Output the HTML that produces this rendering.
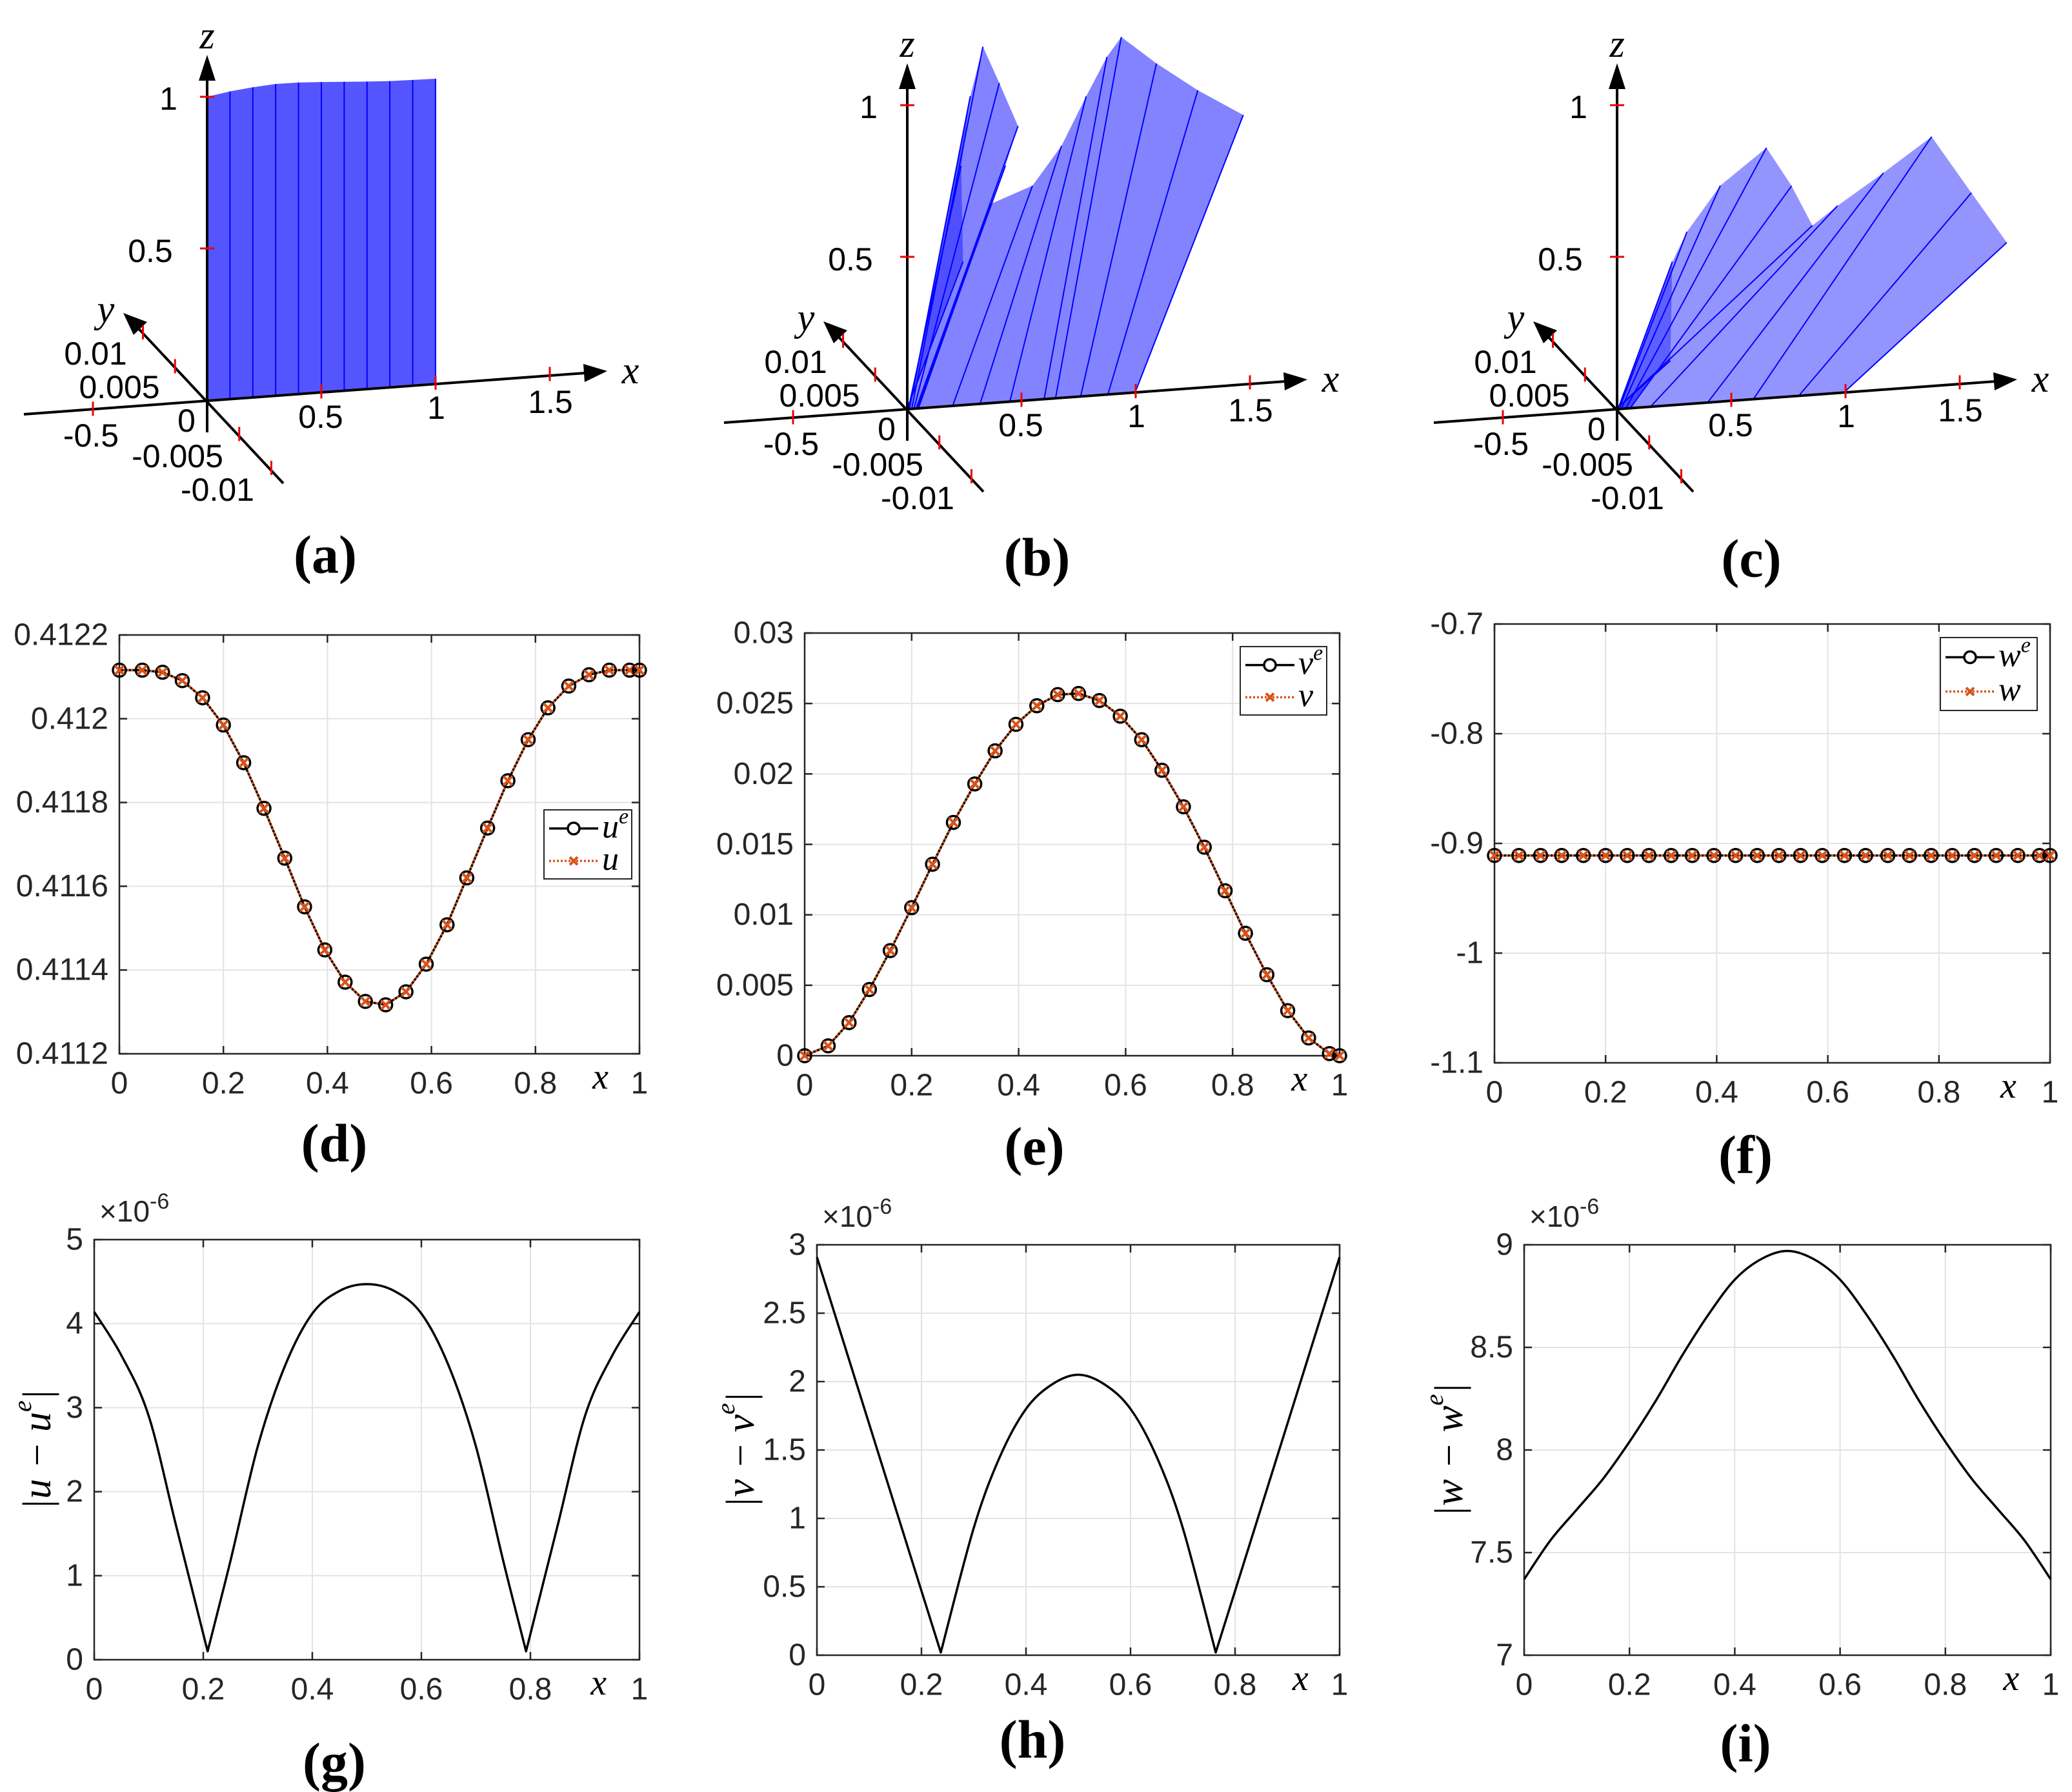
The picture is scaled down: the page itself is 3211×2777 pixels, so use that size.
<!DOCTYPE html>
<html><head><meta charset="utf-8">
<style>
html,body{margin:0;padding:0;background:#fff;}
svg{display:block;}
</style></head>
<body>
<svg id="fig" xmlns="http://www.w3.org/2000/svg" width="3211" height="2777" viewBox="0 0 3211 2777">
<rect x="0" y="0" width="3211" height="2777" fill="#fff"/>
</svg>
<script>
// ===== 3D panel data =====
const aS = [0, 0.1, 0.2, 0.3, 0.4, 0.5, 0.6, 0.7, 0.8, 0.9, 1.0];
const aBase = [0, 0.1, 0.2, 0.3, 0.4, 0.5, 0.6, 0.7, 0.8, 0.9, 1.0];
const aTopX = [0, 0.1, 0.2, 0.3, 0.4, 0.5, 0.6, 0.7, 0.8, 0.9, 1.0];
const aTopZ = [1.0, 1.012, 1.02, 1.025, 1.024, 1.02, 1.015, 1.01, 1.006, 1.004, 1.002];

const bBase = [0, 0.005, 0.01, 0.02, 0.03, 0.04, 0.045, 0.05, 0.2, 0.32, 0.45, 0.6, 0.65, 0.76, 0.88, 1.0];
const bTopX = [0.244, 0.236, 0.276, 0.331, 0.403, 0.485, 0.430, 0.367, 0.548, 0.675, 0.783, 0.874, 0.937, 1.091, 1.272, 1.471];
const bTopZ = [0.470, 0.787, 1.014, 1.174, 1.050, 0.903, 0.776, 0.654, 0.703, 0.827, 0.984, 1.109, 1.171, 1.075, 0.976, 0.883];

const cBase = [0, 0.005, 0.01, 0.02, 0.04, 0.06, 0.0, 0.15, 0.4, 0.6, 0.8, 1.0];
const cTopX = [0.233, 0.242, 0.306, 0.452, 0.654, 0.764, 0.855, 0.965, 1.166, 1.377, 1.551, 1.706];
const cTopZ = [0.144, 0.470, 0.565, 0.709, 0.822, 0.690, 0.554, 0.613, 0.710, 0.817, 0.622, 0.449];

// ===== 2D panel data =====
const nodeX = [0, 0.044, 0.083, 0.121, 0.160, 0.200, 0.239, 0.278, 0.318, 0.356, 0.395, 0.434, 0.473, 0.512, 0.551, 0.590, 0.630, 0.668, 0.708, 0.747, 0.786, 0.824, 0.864, 0.903, 0.942, 0.981, 1.0];
const uVals = [0.412116, 0.412116, 0.412111, 0.412091, 0.412050, 0.411985, 0.411895, 0.411786, 0.411667, 0.411551, 0.411448, 0.411371, 0.411325, 0.411317, 0.411348, 0.411414, 0.411508, 0.411620, 0.411739, 0.411852, 0.411950, 0.412026, 0.412078, 0.412105, 0.412116, 0.412116, 0.412116];
const vVals = [0, 0.0007, 0.00235, 0.0047, 0.00746, 0.01051, 0.01359, 0.01656, 0.01929, 0.02164, 0.02352, 0.02484, 0.02563, 0.02571, 0.02521, 0.0241, 0.02243, 0.02026, 0.01767, 0.0148, 0.01171, 0.00869, 0.00575, 0.0032, 0.00126, 0.00015, 0];
const wVals = [-0.911, -0.911, -0.911, -0.911, -0.911, -0.911, -0.911, -0.911, -0.911, -0.911, -0.911, -0.911, -0.911, -0.911, -0.911, -0.911, -0.911, -0.911, -0.911, -0.911, -0.911, -0.911, -0.911, -0.911, -0.911, -0.911, -0.911];

const gX = [0, 0.05, 0.1, 0.15, 0.208, 0.25, 0.3, 0.35, 0.4, 0.45, 0.5, 0.55, 0.6, 0.65, 0.7, 0.75, 0.792, 0.85, 0.9, 0.95, 1];
const gVals = [4.14, 3.62, 2.9, 1.6, 0.1, 1.18, 2.54, 3.5, 4.12, 4.39, 4.47, 4.39, 4.12, 3.5, 2.54, 1.18, 0.1, 1.6, 2.9, 3.62, 4.14];
const gCusps = [4, 16];
const hX = [0, 0.1, 0.2, 0.237, 0.3, 0.35, 0.4, 0.45, 0.5, 0.55, 0.6, 0.65, 0.7, 0.763, 0.8, 0.9, 1];
const hVals = [2.91, 1.69, 0.47, 0.02, 0.93, 1.45, 1.80, 1.98, 2.05, 1.98, 1.80, 1.45, 0.93, 0.02, 0.47, 1.69, 2.91];
const hCusps = [3, 13];
const iX = [0, 0.05, 0.1, 0.15, 0.2, 0.25, 0.3, 0.35, 0.4, 0.45, 0.5, 0.55, 0.6, 0.65, 0.7, 0.75, 0.8, 0.85, 0.9, 0.95, 1];
const iVals = [7.37, 7.56, 7.71, 7.86, 8.04, 8.24, 8.46, 8.66, 8.83, 8.93, 8.97, 8.93, 8.83, 8.66, 8.46, 8.24, 8.04, 7.86, 7.71, 7.56, 7.37];
const iCusps = [];

const xTicks = [0, 0.2, 0.4, 0.6, 0.8, 1];
const xTickLabels = ['0', '0.2', '0.4', '0.6', '0.8', '1'];
const dTicks = [0.4112, 0.4114, 0.4116, 0.4118, 0.412, 0.4122];
const dTickLabels = ['0.4112', '0.4114', '0.4116', '0.4118', '0.412', '0.4122'];
const eTicks = [0, 0.005, 0.01, 0.015, 0.02, 0.025, 0.03];
const eTickLabels = ['0', '0.005', '0.01', '0.015', '0.02', '0.025', '0.03'];
const fTicks = [-1.1, -1, -0.9, -0.8, -0.7];
const fTickLabels = ['-1.1', '-1', '-0.9', '-0.8', '-0.7'];
const gTicks = [0, 1, 2, 3, 4, 5];
const gTickLabels = ['0', '1', '2', '3', '4', '5'];
const hTicks = [0, 0.5, 1, 1.5, 2, 2.5, 3];
const hTickLabels = ['0', '0.5', '1', '1.5', '2', '2.5', '3'];
const iTicks = [7, 7.5, 8, 8.5, 9];
const iTickLabels = ['7', '7.5', '8', '8.5', '9'];

const NS = 'http://www.w3.org/2000/svg';
const svg = document.getElementById('fig');
function mk(tag, attrs, parent) {
  const e = document.createElementNS(NS, tag);
  for (const k in attrs) e.setAttribute(k, attrs[k]);
  (parent || svg).appendChild(e);
  return e;
}
const TXT = '#262626';
const SANS = '"Liberation Sans", Arial, sans-serif';
const SERIF = '"Liberation Serif", "Times New Roman", serif';

// ===== 3D panels =====
function panel3D(name, ox, oy, base, topX, topZ, fillOp) {
  const g = mk('g', {});
  
  
  const P = (x, y, z) => [ox + x * 354 + y * (-9950), oy - x * 27 - y * 10500 - z * 470];
  for (let i = 0; i < base.length - 1; i++) {
    const b0 = P(base[i], 0, 0), t0 = P(topX[i], 0, topZ[i]);
    const b1 = P(base[i + 1], 0, 0), t1 = P(topX[i + 1], 0, topZ[i + 1]);
    const q = mk('polygon', {points: [b0, t0, t1, b1].map(p => p.join(',')).join(' '), fill: '#2a2aff', 'fill-opacity': fillOp, stroke: 'none'}, g);
    
    
  }
  for (let i = 0; i < base.length; i++) {
    const b0 = P(base[i], 0, 0), t0 = P(topX[i], 0, topZ[i]);
    const l = mk('line', {x1: b0[0], y1: b0[1], x2: t0[0], y2: t0[1], stroke: '#0000ff', 'stroke-width': 2}, g);
    
    
  }
  const ax = (x1, y1, x2, y2, nm) => {
    const l = mk('line', {x1, y1, x2, y2, stroke: '#000', 'stroke-width': 4}, g);
    
    
  };
  ax(ox - 284, oy + 22, ox + 600, oy - 43, 'x-axis');
  ax(ox, oy + 50, ox, oy - 510, 'z-axis');
  ax(ox + 118, oy + 129, ox - 115, oy - 120, 'y-axis');
  const arr = (pts, nm) => {
    const p = mk('polygon', {points: pts, fill: '#000'}, g);
    
    
  };
  arr(`${ox},${oy - 535} ${ox - 13},${oy - 495} ${ox + 13},${oy - 495}`, 'z-arrow');
  arr(`${ox + 620},${oy - 45} ${ox + 585},${oy - 28} ${ox + 583},${oy - 56}`, 'x-arrow');
  arr(`${ox - 130},${oy - 135} ${ox - 93},${oy - 121} ${ox - 114},${oy - 101}`, 'y-arrow');
  const zt = [0.5, 1];
  zt.forEach(z => { const p = P(0, 0, z); const t = mk('line', {x1: p[0] - 11, y1: p[1], x2: p[0] + 11, y2: p[1], stroke: '#e00', 'stroke-width': 3}, g);   });
  const xt = [-0.5, 0.5, 1, 1.5];
  xt.forEach(x => { const p = P(x, 0, 0); const t = mk('line', {x1: p[0], y1: p[1] - 11, x2: p[0], y2: p[1] + 11, stroke: '#e00', 'stroke-width': 3}, g);   });
  const yt = [-0.01, -0.005, 0.005, 0.01];
  yt.forEach(y => { const p = P(0, y, 0); const t = mk('line', {x1: p[0], y1: p[1] - 11, x2: p[0], y2: p[1] + 11, stroke: '#e00', 'stroke-width': 3}, g);   });
  const labs = [['1', -60, -467], ['0.5', -88, -231], ['0.01', -173, -72], ['0.005', -136, -20], ['0', -32, 32], ['-0.5', -180, 55], ['-0.005', -46, 87], ['-0.01', 16, 139], ['0.5', 176, 26], ['1', 355, 12], ['1.5', 532, 3]];
  labs.forEach(L => {
    const t = mk('text', {x: ox + L[1], y: oy + L[2], 'font-family': SANS, 'font-size': 50, 'text-anchor': 'middle', 'dominant-baseline': 'central', fill: '#000'}, g);
    t.textContent = L[0];
    
    
  });
  [['x', 656, -46], ['y', -157, -141], ['z', 0, -565]].forEach(L => {
    const t = mk('text', {x: ox + L[1], y: oy + L[2], 'font-family': SERIF, 'font-style': 'italic', 'font-size': 60, 'text-anchor': 'middle', 'dominant-baseline': 'central', fill: '#000'}, g);
    t.textContent = L[0];
    
    
  });
}
panel3D('panel-a-3d', 321, 620, aBase, aTopX, aTopZ, 0.8);
panel3D('panel-b-3d', 1406, 633, bBase, bTopX, bTopZ, 0.58);
panel3D('panel-c-3d', 2506, 633, cBase, cTopX, cTopZ, 0.5);

// ===== 2D panels =====
function smoothSeg(pts) {
  let d = '';
  for (let i = 0; i < pts.length - 1; i++) {
    const p0 = pts[Math.max(0, i - 1)], p1 = pts[i], p2 = pts[i + 1], p3 = pts[Math.min(pts.length - 1, i + 2)];
    const c1 = [p1[0] + (p2[0] - p0[0]) / 6, p1[1] + (p2[1] - p0[1]) / 6];
    const c2 = [p2[0] - (p3[0] - p1[0]) / 6, p2[1] - (p3[1] - p1[1]) / 6];
    d += ` C${c1[0]},${c1[1]} ${c2[0]},${c2[1]} ${p2[0]},${p2[1]}`;
  }
  return d;
}
function smoothPath(pts, cusps) {
  let d = `M${pts[0][0]},${pts[0][1]}`;
  const cuts = [0].concat(cusps, [pts.length - 1]);
  for (let k = 0; k < cuts.length - 1; k++) d += smoothSeg(pts.slice(cuts[k], cuts[k + 1] + 1));
  return d;
}
function panel2D(cfg) {
  const g = mk('g', {});
  
  
  const {L, R, T, B, ymin, ymax} = cfg;
  const sx = x => L + x * (R - L);
  const sy = y => B - (y - ymin) / (ymax - ymin) * (B - T);
  xTicks.forEach((x, i) => {
    if (i > 0 && i < xTicks.length - 1) { const l = mk('line', {x1: sx(x), y1: T, x2: sx(x), y2: B, stroke: '#e3e3e3', 'stroke-width': 2}, g);   }
  });
  cfg.yt.forEach((y, i) => {
    if (i > 0 && i < cfg.yt.length - 1) { const l = mk('line', {x1: L, y1: sy(y), x2: R, y2: sy(y), stroke: '#e3e3e3', 'stroke-width': 2}, g);   }
  });
  const fr = mk('rect', {x: L, y: T, width: R - L, height: B - T, fill: 'none', stroke: TXT, 'stroke-width': 2.5}, g);
  
  
  xTicks.forEach((x, i) => {
    const t1 = mk('line', {x1: sx(x), y1: B, x2: sx(x), y2: B - 12, stroke: TXT, 'stroke-width': 2.5}, g);
    
    
    const t2 = mk('line', {x1: sx(x), y1: T, x2: sx(x), y2: T + 12, stroke: TXT, 'stroke-width': 2.5}, g);
    
    
    const tx = mk('text', {x: sx(x), y: B + 46, 'font-family': SANS, 'font-size': 48, 'text-anchor': 'middle', 'dominant-baseline': 'central', fill: TXT}, g);
    tx.textContent = xTickLabels[i];
    
    
  });
  cfg.yt.forEach((y, i) => {
    const t1 = mk('line', {x1: L, y1: sy(y), x2: L + 12, y2: sy(y), stroke: TXT, 'stroke-width': 2.5}, g);
    
    
    const t2 = mk('line', {x1: R, y1: sy(y), x2: R - 12, y2: sy(y), stroke: TXT, 'stroke-width': 2.5}, g);
    
    
    const tx = mk('text', {x: L - 17, y: sy(y), 'font-family': SANS, 'font-size': 48, 'text-anchor': 'end', 'dominant-baseline': 'central', fill: TXT}, g);
    tx.textContent = cfg.ytl[i];
    
    
  });
  const xl = mk('text', {x: L + 0.925 * (R - L), y: B + 36, 'font-family': SERIF, 'font-style': 'italic', 'font-size': 56, 'text-anchor': 'middle', 'dominant-baseline': 'central', fill: '#000'}, g);
  xl.textContent = 'x';
  
  
  if (cfg.markers) {
    const pts = cfg.xs.map((x, i) => [sx(x), sy(cfg.ys[i])]);
    const ln = mk('polyline', {points: pts.map(p => p.join(',')).join(' '), fill: 'none', stroke: '#000', 'stroke-width': 3.5}, g);
    
    
    const ln2 = mk('polyline', {points: pts.map(p => p.join(',')).join(' '), fill: 'none', stroke: '#D95319', 'stroke-width': 3.5, 'stroke-dasharray': '3,3'}, g);
    
    
    pts.forEach(p => {
      const c = mk('circle', {cx: p[0], cy: p[1], r: 10, fill: 'none', stroke: '#000', 'stroke-width': 3.5}, g);
      
      
      const m = mk('path', {d: `M${p[0] - 7},${p[1] - 7}L${p[0] + 7},${p[1] + 7}M${p[0] - 7},${p[1] + 7}L${p[0] + 7},${p[1] - 7}`, stroke: '#D95319', 'stroke-width': 4, fill: 'none'}, g);
      
      
    });
    const [lx, ly, lw, lh] = cfg.leg;
    const lg = mk('g', {}, g);
    
    
    const bx = mk('rect', {x: lx, y: ly, width: lw, height: lh, fill: '#fff', stroke: TXT, 'stroke-width': 2}, lg);
    
    
    const r1 = ly + lh * 0.27, r2 = ly + lh * 0.74;
    const e1 = mk('line', {x1: lx + 8, y1: r1, x2: lx + 84, y2: r1, stroke: '#000', 'stroke-width': 3.5}, lg);
    
    
    const e1c = mk('circle', {cx: lx + 46, cy: r1, r: 9, fill: '#fff', stroke: '#000', 'stroke-width': 3.5}, lg);
    
    
    const e2 = mk('line', {x1: lx + 8, y1: r2, x2: lx + 84, y2: r2, stroke: '#D95319', 'stroke-width': 3.5, 'stroke-dasharray': '3,3'}, lg);
    
    
    const e2m = mk('path', {d: `M${lx + 40},${r2 - 6}L${lx + 52},${r2 + 6}M${lx + 40},${r2 + 6}L${lx + 52},${r2 - 6}`, stroke: '#D95319', 'stroke-width': 4}, lg);
    
    
    const t1 = mk('text', {x: lx + 90, y: r1 + 14, 'font-family': SERIF, 'font-style': 'italic', 'font-size': 52, fill: '#000'}, lg);
    t1.innerHTML = cfg.sym + '<tspan font-size="34" dy="-22">e</tspan>';
    
    
    const t2 = mk('text', {x: lx + 90, y: r2 + 14, 'font-family': SERIF, 'font-style': 'italic', 'font-size': 52, fill: '#000'}, lg);
    t2.textContent = cfg.sym;
    
    
  } else {
    const pts = cfg.xs.map((x, i) => [sx(x), sy(cfg.ys[i])]);
    const ln = mk('path', {d: smoothPath(pts, cfg.cusps), fill: 'none', stroke: '#000', 'stroke-width': 3.5, 'stroke-linejoin': 'round'}, g);
    
    
    const ex = mk('text', {x: L + 8, y: T - 28, 'font-family': SANS, 'font-size': 46, fill: TXT}, g);
    ex.innerHTML = '×10<tspan font-size="34" dy="-20">-6</tspan>';
    
    
    const cy = (T + B) / 2;
    const yl = mk('text', {x: cfg.ylx, y: cy, transform: `rotate(-90 ${cfg.ylx} ${cy})`, 'font-family': SERIF, 'font-style': 'italic', 'font-size': 62, 'text-anchor': 'middle', 'dominant-baseline': 'central', fill: '#000'}, g);
    yl.innerHTML = '|' + cfg.sym + ' − ' + cfg.sym + '<tspan font-size="40" dy="-24">e</tspan><tspan dy="24">|</tspan>';
    
    
  }
}
panel2D({name: 'panel-d-u', L: 185, R: 991, T: 984, B: 1633, ymin: 0.4112, ymax: 0.4122, yt: dTicks, ytl: dTickLabels, markers: true, xs: nodeX, ys: uVals, leg: [843, 1255, 136, 107], sym: 'u'});
panel2D({name: 'panel-e-v', L: 1247, R: 2076, T: 981, B: 1636, ymin: 0, ymax: 0.03, yt: eTicks, ytl: eTickLabels, markers: true, xs: nodeX, ys: vVals, leg: [1922, 1002, 134, 106], sym: 'v'});
panel2D({name: 'panel-f-w', L: 2316, R: 3177, T: 967, B: 1647, ymin: -1.1, ymax: -0.7, yt: fTicks, ytl: fTickLabels, markers: true, xs: nodeX, ys: wVals, leg: [3007, 988, 150, 113], sym: 'w'});
panel2D({name: 'panel-g-u-error', L: 146, R: 991, T: 1921, B: 2572, ymin: 0, ymax: 5, yt: gTicks, ytl: gTickLabels, markers: false, xs: gX, ys: gVals, cusps: gCusps, sym: 'u', ylx: 58});
panel2D({name: 'panel-h-v-error', L: 1266, R: 2076, T: 1929, B: 2565, ymin: 0, ymax: 3, yt: hTicks, ytl: hTickLabels, markers: false, xs: hX, ys: hVals, cusps: hCusps, sym: 'v', ylx: 1148});
panel2D({name: 'panel-i-w-error', L: 2362, R: 3178, T: 1929, B: 2565, ymin: 7, ymax: 9, yt: iTicks, ytl: iTickLabels, markers: false, xs: iX, ys: iVals, cusps: iCusps, sym: 'w', ylx: 2246});

// ===== captions =====
const caps = [['(a)', 504, 860], ['(b)', 1607, 864], ['(c)', 2714, 866], ['(d)', 518, 1772], ['(e)', 1603, 1777], ['(f)', 2705, 1790], ['(g)', 518, 2731], ['(h)', 1600, 2696], ['(i)', 2705, 2702]];
caps.forEach(c => {
  const t = mk('text', {x: c[1], y: c[2], 'font-family': SERIF, 'font-weight': 'bold', 'font-size': 84, 'text-anchor': 'middle', 'dominant-baseline': 'central', fill: '#000'});
  t.textContent = c[0];
  
  
});
</script>
</body></html>
